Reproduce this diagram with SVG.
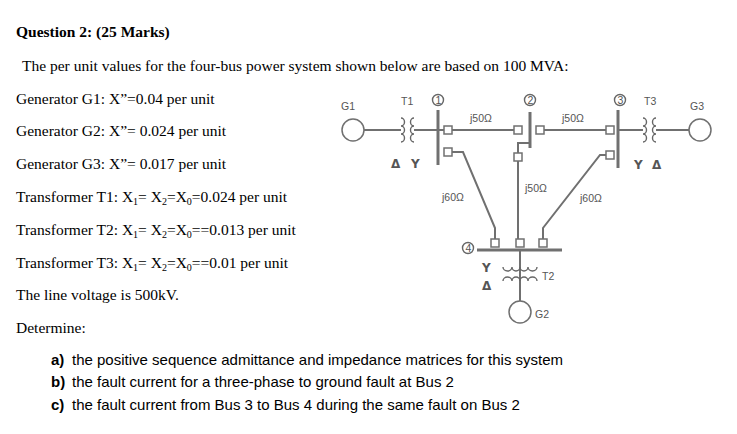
<svg xmlns="http://www.w3.org/2000/svg" width="737" height="434" viewBox="0 0 737 434">
<style>
.t{font-family:"Liberation Serif",serif;font-size:15.5px;fill:#000}
.s{font-family:"Liberation Sans",sans-serif;font-size:15px;fill:#000}
.l{font-family:"Liberation Sans",sans-serif;font-size:10.5px;fill:#555}
.d{font-family:"DejaVu Sans",sans-serif;font-size:12px;fill:#555;font-weight:bold}
.w{stroke:#707070;stroke-width:2;fill:none}
.b{stroke:#707070;stroke-width:3;fill:none}
.bx{stroke:#707070;stroke-width:1.5;fill:#fff}
.g{stroke:#707070;stroke-width:1.5;fill:#fff}
.c{stroke:#666;stroke-width:1.4;fill:none}
.sub{font-size:10px}
</style>
<rect width="737" height="434" fill="#fff"/>
<g id="text">
<text class="t" x="16" y="37" font-weight="bold">Question 2: (25 Marks)</text>
<text class="t" x="22" y="71">The per unit values for the four-bus power system shown below are based on 100 MVA:</text>
<text class="t" x="16" y="104">Generator G1: X”=0.04 per unit</text>
<text class="t" x="16" y="136">Generator G2: X”= 0.024 per unit</text>
<text class="t" x="16" y="169">Generator G3: X”= 0.017 per unit</text>
<text class="t" x="16" y="202">Transformer T1: X<tspan class="sub" dy="3">1</tspan><tspan dy="-3">= X</tspan><tspan class="sub" dy="3">2</tspan><tspan dy="-3">=X</tspan><tspan class="sub" dy="3">0</tspan><tspan dy="-3">=0.024 per unit</tspan></text>
<text class="t" x="16" y="235">Transformer T2: X<tspan class="sub" dy="3">1</tspan><tspan dy="-3">= X</tspan><tspan class="sub" dy="3">2</tspan><tspan dy="-3">=X</tspan><tspan class="sub" dy="3">0</tspan><tspan dy="-3">==0.013 per unit</tspan></text>
<text class="t" x="16" y="268">Transformer T3: X<tspan class="sub" dy="3">1</tspan><tspan dy="-3">= X</tspan><tspan class="sub" dy="3">2</tspan><tspan dy="-3">=X</tspan><tspan class="sub" dy="3">0</tspan><tspan dy="-3">==0.01 per unit</tspan></text>
<text class="t" x="16" y="300">The line voltage is 500kV.</text>
<text class="t" x="16" y="333">Determine:</text>
<text class="s" x="51" y="365"><tspan font-weight="bold">a)</tspan><tspan x="72">the positive sequence admittance and impedance matrices for this system</tspan></text>
<text class="s" x="51" y="387"><tspan font-weight="bold">b)</tspan><tspan x="72">the fault current for a three-phase to ground fault at Bus 2</tspan></text>
<text class="s" x="51" y="410"><tspan font-weight="bold">c)</tspan><tspan x="72">the fault current from Bus 3 to Bus 4 during the same fault on Bus 2</tspan></text>
</g>
<g id="connectors">
<path class="w" d="M364,130 H401 M414,130 H448 M448,130 H518 M540,130 H610 M618,130 H643 M656,130 H689"/>
<path class="w" d="M448,152 H463 L495,228 V239"/>
<path class="w" d="M530,143 H518 V157 V239"/>
<path class="w" d="M610,155 H600 L543,228 V239"/>
<path class="w" d="M520,250 V301"/>
</g>
<g id="bus1"><line class="b" x1="438" y1="110" x2="438" y2="165"/><circle class="c" cx="438" cy="100" r="5.5"/><text class="l" x="435.5" y="103.5" font-size="8">1</text>
<rect class="bx" x="444" y="126" width="8" height="8"/><rect class="bx" x="444" y="148" width="8" height="8"/></g>
<g id="bus2"><line class="b" x1="530" y1="112" x2="530" y2="148"/><circle class="c" cx="530" cy="100" r="5.5"/><text class="l" x="527.5" y="103.5" font-size="8">2</text>
<rect class="bx" x="514" y="126" width="8" height="8"/><rect class="bx" x="536" y="126" width="8" height="8"/><rect class="bx" x="514" y="153" width="8" height="8"/></g>
<g id="bus3"><line class="b" x1="618" y1="110" x2="618" y2="168"/><circle class="c" cx="620" cy="100" r="5.5"/><text class="l" x="617.5" y="103.5" font-size="8">3</text>
<rect class="bx" x="606" y="126" width="8" height="8"/><rect class="bx" x="606" y="151" width="8" height="8"/></g>
<g id="bus4"><line class="b" x1="477" y1="250" x2="562" y2="250"/><circle class="c" cx="468" cy="248" r="5.5"/><text class="l" x="465.5" y="251.5" font-size="8">4</text>
<rect class="bx" x="491" y="239" width="8" height="8"/><rect class="bx" x="516" y="239" width="8" height="8"/><rect class="bx" x="539" y="239" width="8" height="8"/></g>
<g id="G1"><circle class="g" cx="353" cy="130" r="11"/><text class="l" x="341" y="110">G1</text></g>
<g id="G2"><circle class="g" cx="520" cy="312" r="11"/><text class="l" x="535" y="318">G2</text></g>
<g id="G3"><circle class="g" cx="700" cy="130" r="11"/><text class="l" x="690" y="110">G3</text></g>
<g id="T1"><path class="c" d="M401,118 a3.5,4 0 0 1 0,8 a3.5,4 0 0 1 0,8 a3.5,4 0 0 1 0,8 M414,118 a3.5,4 0 0 0 0,8 a3.5,4 0 0 0 0,8 a3.5,4 0 0 0 0,8"/><text class="l" x="401" y="105">T1</text>
<text class="d" x="391" y="168">Δ</text><text class="d" x="411" y="168">Y</text></g>
<g id="T3"><path class="c" d="M643,118 a3.5,4 0 0 1 0,8 a3.5,4 0 0 1 0,8 a3.5,4 0 0 1 0,8 M656,118 a3.5,4 0 0 0 0,8 a3.5,4 0 0 0 0,8 a3.5,4 0 0 0 0,8"/><text class="l" x="644" y="105">T3</text>
<text class="d" x="634" y="169">Y</text><text class="d" x="652" y="169">Δ</text></g>
<g id="T2"><path class="c" d="M503,267 a4.5,4 0 0 0 9,0 a4,4 0 0 0 8,0 a4,4 0 0 0 8,0 a4.5,4 0 0 0 9,0 M503,281 a4.5,4 0 0 1 9,0 a4,4 0 0 1 8,0 a4,4 0 0 1 8,0 a4.5,4 0 0 1 9,0"/><text class="l" x="542" y="280">T2</text>
<text class="d" x="482" y="272">Y</text><text class="d" x="482" y="290">Δ</text></g>
<g id="labels">
<text class="l" x="470" y="122">j50Ω</text><text class="l" x="562" y="122">j50Ω</text>
<text class="l" x="442" y="201">j60Ω</text><text class="l" x="525" y="192">j50Ω</text><text class="l" x="580" y="202">j60Ω</text>
</g>
</svg>
